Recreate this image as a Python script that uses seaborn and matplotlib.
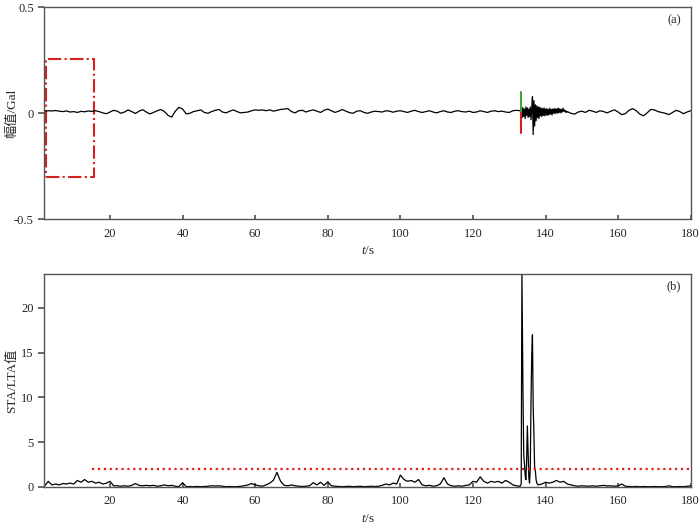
import numpy as np
import matplotlib
matplotlib.use("Agg")
import matplotlib.pyplot as plt
from matplotlib.patches import Rectangle
import seaborn as sns

# ── Data ──────────────────────────────────────────────────────
# waveform, 1 s samples from t = 2 .. 133
wave_pre = [
    0.010, 0.012, 0.011, 0.013, 0.010, 0.008, 0.011, 0.006, 0.008, 0.004,
    0.009, 0.007, 0.011, 0.009, 0.012, 0.008, 0.002, -0.002, 0.006, 0.014,
    0.010, 0.000, 0.006, 0.016, 0.008, -0.001, 0.010, 0.017, 0.006, -0.003,
    0.004, 0.012, 0.018, 0.008, -0.010, -0.018, 0.010, 0.028, 0.020, -0.003,
    0.000, 0.008, 0.012, 0.016, 0.004, 0.000, 0.008, 0.014, 0.018, 0.006,
    0.002, 0.010, 0.016, 0.008, 0.002, 0.004, 0.006, 0.012, 0.016, 0.014,
    0.016, 0.012, 0.016, 0.010, 0.014, 0.018, 0.020, 0.022, 0.008, 0.002,
    0.012, 0.014, 0.006, 0.012, 0.016, 0.010, 0.004, 0.014, 0.020, 0.012,
    0.004, 0.010, 0.018, 0.010, 0.003, 0.000, 0.010, 0.012, 0.004, 0.000,
    0.006, 0.010, 0.008, 0.006, 0.012, 0.010, 0.005, 0.010, 0.012, 0.008,
    0.004, 0.010, 0.014, 0.008, 0.004, 0.008, 0.012, 0.006, 0.002, 0.008,
    0.012, 0.006, 0.004, 0.010, 0.012, 0.008, 0.006, 0.010, 0.004, 0.006,
    0.012, 0.008, 0.004, 0.010, 0.012, 0.008, 0.010, 0.006, 0.004, 0.012,
    0.014, 0.012,
]
# waveform, 0.2 s samples from t = 133.2 .. 146.0 (event)
wave_event = [
    0.010, 0.030, -0.020, 0.025, -0.015, 0.020, -0.025, 0.030, -0.010, 0.025,
    -0.020, 0.020, -0.015, 0.030, -0.030, 0.020, 0.078, -0.100, 0.060, -0.060,
    0.040, -0.035, 0.035, -0.020, 0.030, -0.025, 0.028, -0.012, 0.025, -0.015,
    0.022, -0.010, 0.025, -0.012, 0.020, -0.008, 0.022, -0.010, 0.018, -0.006,
    0.024, -0.004, 0.018, -0.008, 0.020, 0.000, 0.022, -0.002, 0.020, 0.002,
    0.022, 0.000, 0.024, 0.004, 0.020, 0.002, 0.018, 0.006, 0.024, 0.010,
    0.016, 0.006, 0.012, 0.004, 0.008,
]
# waveform, 1 s samples from t = 147 .. 180
wave_post = [
    0.000, -0.004, 0.006, 0.010, 0.004, 0.014, 0.010, 0.004, 0.012, 0.008,
    0.002, 0.010, 0.016, 0.006, -0.006, -0.002, 0.014, 0.022, 0.012, -0.004,
    -0.012, 0.002, 0.018, 0.016, 0.008, 0.004, 0.000, -0.006, 0.004, 0.014,
    0.008, -0.002, 0.006, 0.012,
]

# STA/LTA, 1 s samples from t = 2 .. 133
ratio_pre = [
    0.1, 0.6, 0.2, 0.3, 0.2, 0.35, 0.3, 0.4, 0.3, 0.7,
    0.5, 0.8, 0.5, 0.6, 0.4, 0.5, 0.3, 0.4, 0.6, 0.1,
    0.1, 0.05, 0.1, 0.05, 0.15, 0.35, 0.15, 0.1, 0.15, 0.1,
    0.15, 0.05, 0.1, 0.2, 0.1, 0.15, 0.05, 0.0, 0.45, 0.0,
    0.02, 0.0, 0.03, 0.0, 0.02, 0.05, 0.1, 0.08, 0.1, 0.05,
    0.0, 0.02, 0.0, 0.0, 0.05, 0.1, 0.2, 0.35, 0.2, 0.1,
    0.05, 0.2, 0.4, 0.7, 1.6, 0.6, 0.15, 0.1, 0.2, 0.1,
    0.05, 0.02, 0.05, 0.1, 0.45, 0.2, 0.5, 0.15, 0.55, 0.1,
    0.05, 0.02, 0.0, 0.03, 0.05, 0.0, 0.02, 0.05, 0.0, 0.03,
    0.05, 0.02, 0.05, 0.15, 0.3, 0.2, 0.4, 0.3, 1.3, 0.8,
    0.6, 0.7, 0.5, 0.8, 0.2, 0.1, 0.15, 0.05, 0.1, 0.3,
    1.0, 0.3, 0.1, 0.05, 0.1, 0.05, 0.15, 0.2, 0.6, 0.5,
    1.1, 0.6, 0.4, 0.6, 0.5, 0.6, 0.4, 0.7, 0.5, 0.2,
    0.1, 0.05,
]
# STA/LTA around the event
ratio_event_t = [133.3, 133.5, 133.8, 134.0, 134.2, 134.4, 134.6, 134.8, 135.0,
                 135.2, 135.4, 135.6, 135.8, 136.0, 136.2, 136.4, 136.6, 136.8,
                 137.0, 137.2, 137.4, 137.6]
ratio_event = [0.3, 24.0, 10.0, 3.5, 2.5, 1.2, 0.8, 3.0, 6.8,
               4.0, 1.0, 0.4, 2.0, 9.5, 14.7, 17.0, 9.0, 6.0,
               2.0, 1.8, 0.8, 0.4]
# STA/LTA, 1 s samples from t = 138 .. 180
ratio_post = [
    0.2, 0.3, 0.5, 0.4, 0.5, 0.7, 0.5, 0.6, 0.3, 0.2,
    0.1, 0.05, 0.1, 0.08, 0.05, 0.1, 0.05, 0.1, 0.15, 0.08,
    0.1, 0.05, 0.1, 0.3, 0.05, 0.02, 0.0, 0.03, 0.0, 0.02,
    0.0, 0.0, 0.02, 0.0, 0.0, 0.02, 0.1, 0.0, 0.0, 0.02,
    0.0, 0.05, 0.1,
]

PICK_TIME = 133.3          # P-arrival pick
PICK_UP, PICK_DOWN = 0.10, -0.095
NOISE_WIN = (2.3, 15.5, -0.30, 0.255)   # t0, t1, amp0, amp1
THRESHOLD = 2.0
THRESH_START = 15.0

# sampling grids
t_wave = np.concatenate([np.arange(2, 134), np.arange(133.2, 146.01, 0.2), np.arange(147, 181)])
amp = np.array(wave_pre + wave_event + wave_post)
t_ratio = np.concatenate([np.arange(2, 134), ratio_event_t, np.arange(138, 181)])
ratio = np.array(ratio_pre + ratio_event + ratio_post)

# ── Style ─────────────────────────────────────────────────────
sns.set_theme(style="ticks")
plt.rcParams.update({
    "font.family": ["Liberation Serif", "Noto Sans CJK SC"],
    "mathtext.fontset": "custom",
    "mathtext.it": "Liberation Serif:italic",
    "mathtext.rm": "Liberation Serif",
    "font.size": 9,
    "xtick.labelsize": 9,
    "ytick.labelsize": 9,
    "axes.labelsize": 9.5,
    "axes.edgecolor": "#555555",
    "axes.linewidth": 1.0,
})

fig = plt.figure(figsize=(7, 5.24), dpi=100)
ax1 = fig.add_axes([0.0633, 0.5815, 0.9234, 0.4046])
ax2 = fig.add_axes([0.0633, 0.0712, 0.9234, 0.4059])

# (a) waveform
sns.lineplot(x=t_wave, y=amp, ax=ax1, color="black", lw=0.9)
ax1.add_patch(Rectangle((NOISE_WIN[0], NOISE_WIN[2]), NOISE_WIN[1] - NOISE_WIN[0],
                        NOISE_WIN[3] - NOISE_WIN[2], fill=False, ec="#d62020",
                        lw=1.5, ls="-."))
ax1.plot([PICK_TIME, PICK_TIME], [0, PICK_UP], color="#3aa53a", lw=1.5)
ax1.plot([PICK_TIME, PICK_TIME], [0, PICK_DOWN], color="#d62020", lw=1.5)
ax1.set_xlim(1.9, 180)
ax1.set_ylim(-0.5, 0.5)
ax1.set_yticks([-0.5, 0, 0.5])
ax1.set_yticklabels(["-0.5", "0", "0.5"])
ax1.set_ylabel("幅值/Gal")
ax1.text(0.985, 0.94, "(a)", transform=ax1.transAxes, ha="right", va="center")

# (b) STA/LTA
sns.lineplot(x=t_ratio, y=ratio, ax=ax2, color="black", lw=0.9)
ax2.plot([THRESH_START, 180], [THRESHOLD, THRESHOLD], color="#e02020", lw=1.6, ls=":")
ax2.set_xlim(1.9, 180)
ax2.set_ylim(0, 23.8)
ax2.set_yticks([0, 5, 10, 15, 20])
ax2.set_ylabel("STA/LTA值")
ax2.text(0.985, 0.94, "(b)", transform=ax2.transAxes, ha="right", va="center")

for ax in (ax1, ax2):
    ax.set_xticks(np.arange(20, 181, 20))
    ax.set_xlabel("$t$/s", labelpad=4)
    ax.yaxis.set_label_coords(-0.041, 0.5)
    ax.tick_params(axis="x", direction="in", length=3, color="#555555", pad=6)
    ax.tick_params(axis="y", direction="out", length=4, color="#555555")
    for s in ax.spines.values():
        s.set_visible(True)

fig.savefig("out.png", dpi=100)
